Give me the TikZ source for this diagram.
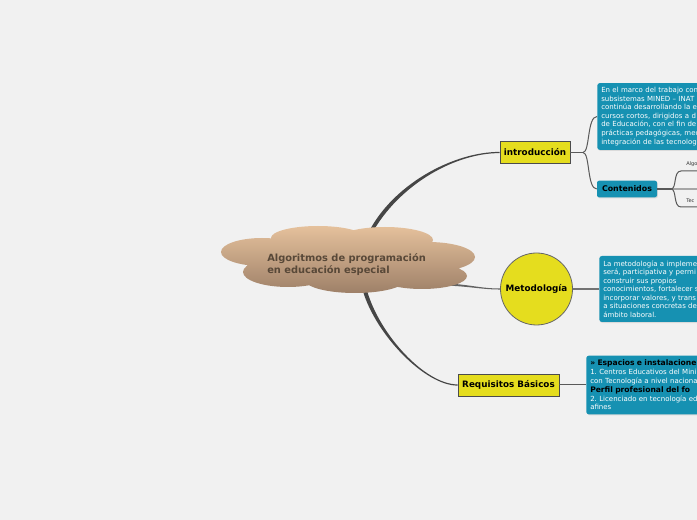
\documentclass[tikz,border=0pt]{standalone}
\usepackage{fontspec}
\setmainfont{DejaVu Sans}
\usetikzlibrary{shadows}
\frenchspacing

\definecolor{bggray}{RGB}{241,241,241}
\definecolor{topicblue}{RGB}{22,145,178}
\definecolor{topicyellow}{RGB}{229,221,30}
\definecolor{cloudtop}{RGB}{229,193,156}
\definecolor{cloudbot}{RGB}{158,128,104}
\definecolor{cloudtext}{RGB}{88,72,56}
\definecolor{branch}{RGB}{70,70,70}

\begin{document}
\begin{tikzpicture}[x=0.75pt,y=-0.75pt,
    yellowbox/.style={draw=black!70, fill=topicyellow, line width=0.6pt, inner sep=0pt,
        font=\bfseries\fontsize{6.6}{8}\selectfont},
    bluebox/.style={fill=topicblue, rounded corners=2pt, anchor=west, inner xsep=3pt,
        text width=86pt, align=left, text=white, font=\fontsize{5.25}{6.4}\selectfont,
        drop shadow={opacity=0.2, shadow xshift=0.6pt, shadow yshift=-0.8pt}},
    twig/.style={draw=branch!90, line width=0.75pt},
    leaf/.style={anchor=west, inner sep=0pt, font=\fontsize{3.8}{4.5}\selectfont, text=black!80}]
    \path[use as bounding box] (0,0) rectangle (697,520);
    \clip (0,0) rectangle (697,520);
    \fill[bggray] (0,0) rectangle (697,520);

    % main topics
    \node[yellowbox, minimum width=52.5pt, minimum height=16.5pt] (intro) at (535,152.5) {introducción};
    \node[yellowbox, circle, draw=black!60, minimum size=54pt] (metod) at (536.5,289) {Metodología};
    \node[yellowbox, minimum width=75.75pt, minimum height=16.5pt] (req) at (508.5,385) {Requisitos Básicos};

    % roots of the branches under the cloud
    \coordinate (rootintro) at (373,228);
    \coordinate (rootmetod) at (448,284.5);
    \coordinate (rootreq) at (365,291);

    \fill[branch] ([xshift=-1.6]rootintro) .. controls (397,182) and (455,151.9) .. ([yshift=0.45]intro.west)
        -- ([yshift=-0.45]intro.west) .. controls (455,153.1) and (402,184) .. ([xshift=1.6]rootintro) -- cycle;
    \fill[branch!85] ([yshift=0.8]rootmetod) .. controls (472,285) and (482,288.6) .. ([yshift=0.4]metod.west)
        -- ([yshift=-0.4]metod.west) .. controls (482,289.4) and (472,286.8) .. ([yshift=-0.8]rootmetod) -- cycle;
    \fill[branch] ([xshift=-1.6]rootreq) .. controls (376.3,335.4) and (425,385.6) .. ([yshift=-0.45]req.west)
        -- ([yshift=0.45]req.west) .. controls (425,384.4) and (379.7,334.6) .. ([xshift=1.6]rootreq) -- cycle;

    % central cloud
    \shade[top color=cloudtop, bottom color=cloudbot]
        (262,252) ellipse [x radius=41, y radius=14]
        (318,238) ellipse [x radius=47, y radius=12]
        (385,240) ellipse [x radius=48, y radius=13]
        (428,257) ellipse [x radius=47, y radius=15]
        (422,276) ellipse [x radius=45, y radius=13]
        (355,280) ellipse [x radius=50, y radius=13]
        (288,272) ellipse [x radius=45, y radius=15]
        (345,258) ellipse [x radius=95, y radius=22];
    \node[anchor=west, align=left, inner sep=0pt, text=cloudtext,
        font=\bfseries\fontsize{7.4}{9.1}\selectfont] (title) at (267,264.5)
        {Algoritmos de programación\\en educación especial};

    % introduccion
    \node[bluebox, minimum height=47.25pt] (introtext) at (597,116.5)
        {En el marco del trabajo con\\subsistemas MINED – INAT\\continúa desarrollando la e\\cursos cortos, dirigidos a d\\de Educación, con el fin de\\prácticas pedagógicas, med\\integración de las tecnolog};
    \node[fill=topicblue, rounded corners=1.5pt, inner sep=0pt, minimum width=45pt, minimum height=12.4pt,
        font=\bfseries\fontsize{5.9}{7}\selectfont,
        drop shadow={opacity=0.2, shadow xshift=0.6pt, shadow yshift=-0.8pt}] (cont) at (627,189) {Contenidos};
    \coordinate (introfork) at (583,152.5);
    \draw[twig] (intro.east) -- (introfork);
    \draw[twig] (introfork) .. controls (590,152.5) and (587,116.5) .. (introtext.west);
    \draw[twig] (introfork) .. controls (590,152.5) and (587,189) .. (cont.west);

    \coordinate (contfork) at (671,189);
    \coordinate (algoend) at (700,171);
    \coordinate (tecend) at (700,207);
    \draw[draw=branch!90, line width=1.8pt] (cont.east) -- (contfork);
    \draw[draw=black!35, line width=0.8pt] (contfork) -- (700,189);
    \draw[twig] (contfork) .. controls (677,189) and (673,171) .. (681,171) -- (algoend);
    \draw[twig] (contfork) .. controls (677,189) and (673,207) .. (681,207) -- (tecend);
    \node[leaf] (algo) at (686,164) {Algo};
    \node[leaf] (tec) at (686,201) {Tec};

    % metodologia
    \node[bluebox, minimum height=49.5pt] (metodtext) at (599,289)
        {La metodología a impleme\\será, participativa y permi\\construir sus propios\\conocimientos, fortalecer s\\incorporar valores, y trans\\a situaciones concretas de\\ámbito laboral.};
    \draw[draw=black!55, line width=0.9pt] (metod.east) -- (metodtext.west);

    % requisitos
    \node[bluebox, minimum height=43.5pt, font=\fontsize{5.25}{6.6}\selectfont] (reqtext) at (586,385)
        {{\color{black}\bfseries\fontsize{5.7}{6.6}\selectfont » Espacios e instalacione}\\1. Centros Educativos del Mini\\con Tecnología a nivel naciona\\{\color{black}\bfseries\fontsize{5.7}{6.6}\selectfont Perfil profesional del fo}\\2. Licenciado en tecnología ed\\afines};
    \draw[draw=branch!90, line width=0.75pt] (req.east) -- (reqtext.west);
\end{tikzpicture}
\end{document}
